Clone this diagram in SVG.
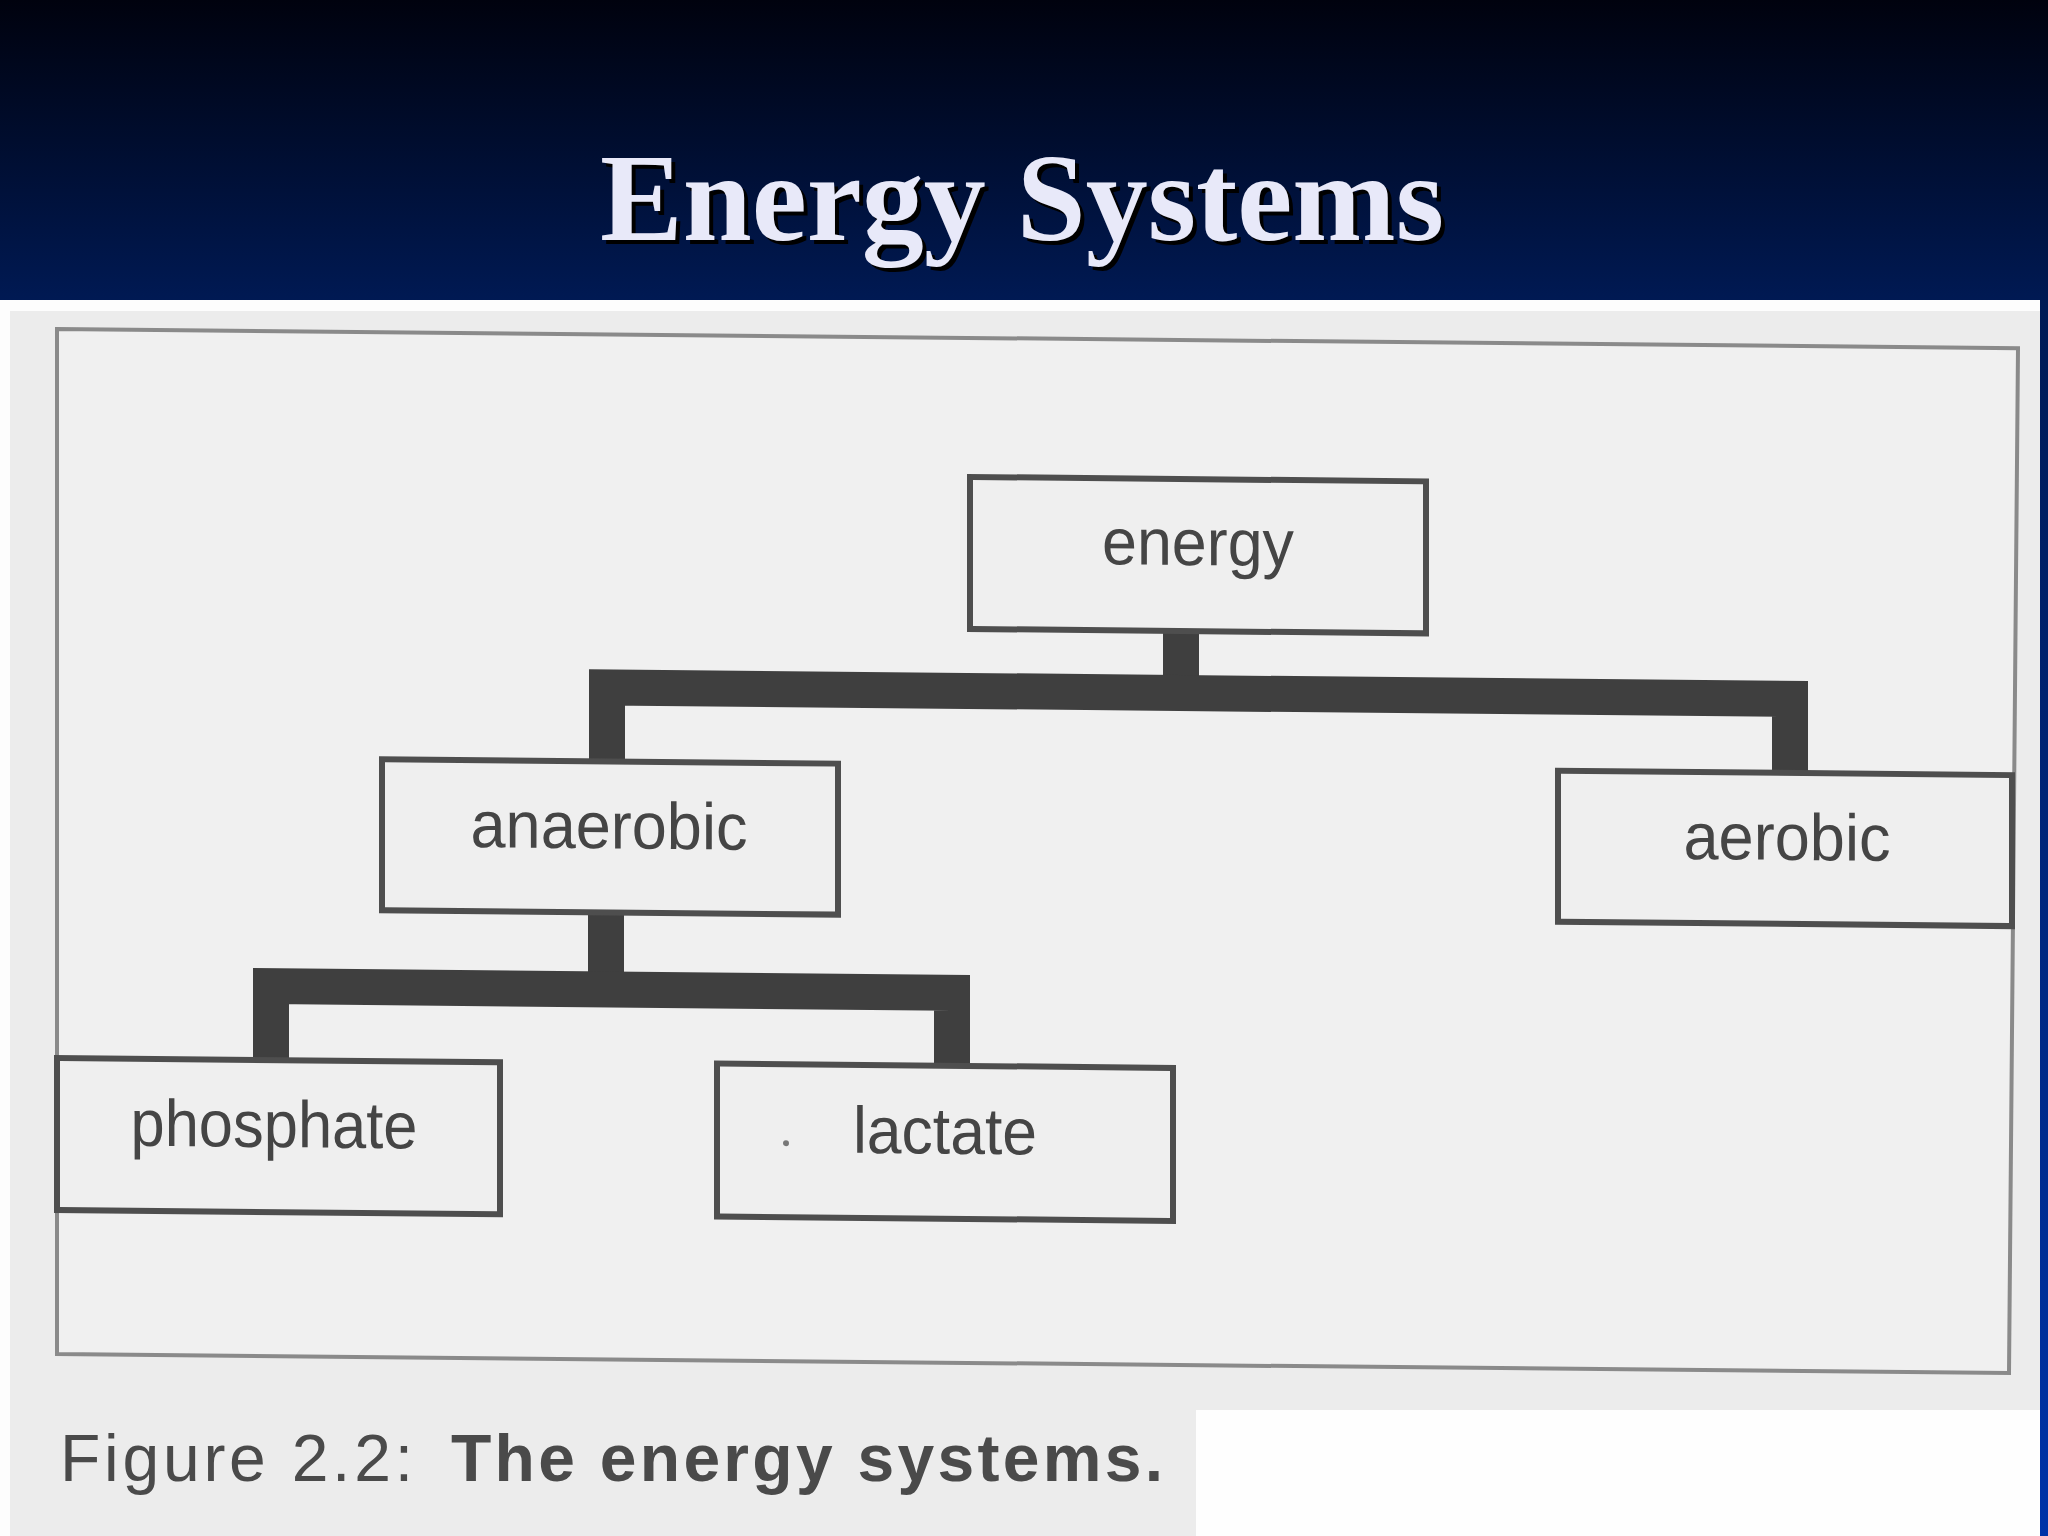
<svg xmlns="http://www.w3.org/2000/svg" width="2048" height="1536" viewBox="0 0 2048 1536">
  <defs>
    <linearGradient id="bg" x1="0" y1="0" x2="0" y2="1">
      <stop offset="0" stop-color="#00020e"/>
      <stop offset="0.2" stop-color="#001a55"/>
      <stop offset="1" stop-color="#0033a8"/>
    </linearGradient>
    <style>
      .title{font-family:"Liberation Serif","Times New Roman",serif;font-weight:bold;font-size:124px;text-anchor:middle}
      .box{fill:#efefef;stroke:#4e4e4e;stroke-width:6}
      .lbl{font-family:"Liberation Sans",Arial,sans-serif;font-size:66px;fill:#454545;text-anchor:middle}
      .conn{fill:none;stroke:#3f3f3f;stroke-width:36;stroke-linejoin:miter;stroke-linecap:butt}
      .cap{font-family:"Liberation Sans",Arial,sans-serif;font-size:66px;fill:#4a4a4a}
    </style>
  </defs>
  <rect x="0" y="0" width="2048" height="1536" fill="url(#bg)"/>
  <text class="title" x="1026" y="244" fill="#000000">Energy Systems</text>
  <text class="title" x="1022" y="240" fill="#e8e9f9">Energy Systems</text>

  <!-- picture area -->
  <rect x="0" y="300" width="2040" height="1236" fill="#fdfdfd"/>
  <rect x="10" y="311" width="2030" height="1225" fill="#ececec"/>
  <rect x="1196" y="1410" width="844" height="126" fill="#fefefe"/>

  <g transform="translate(57 0) skewY(0.56) translate(-57 0)">
    <polygon points="57,329 2018,329 2009,1354 57,1354" fill="#f0f0f0" stroke="#8a8a8a" stroke-width="4"/>

    <g id="connectors">
      <path class="conn" d="M1181,620 V682"/>
      <path class="conn" d="M607,756 V682 H1790 V756"/>
      <path class="conn" d="M606,907 V984"/>
      <path class="conn" d="M271,1058 V984 H952 V1057"/>
    </g>

    <g id="energy">
      <rect class="box" x="970" y="468" width="456" height="152"/>
      <text class="lbl" x="1198" y="554" textLength="192" lengthAdjust="spacingAndGlyphs">energy</text>
    </g>
    <g id="anaerobic">
      <rect class="box" x="382" y="756" width="456" height="151"/>
      <text class="lbl" x="609" y="843" textLength="277" lengthAdjust="spacingAndGlyphs">anaerobic</text>
    </g>
    <g id="aerobic">
      <rect class="box" x="1558" y="756" width="454" height="151"/>
      <text class="lbl" x="1787" y="843" textLength="207" lengthAdjust="spacingAndGlyphs">aerobic</text>
    </g>
    <g id="phosphate">
      <rect class="box" x="57" y="1058" width="443" height="152"/>
      <text class="lbl" x="274" y="1145" textLength="287" lengthAdjust="spacingAndGlyphs">phosphate</text>
    </g>
    <g id="lactate">
      <rect class="box" x="717" y="1057" width="456" height="153"/>
      <circle cx="786" cy="1136" r="3" fill="#777"/>
      <text class="lbl" x="945" y="1145" textLength="184" lengthAdjust="spacingAndGlyphs">lactate</text>
    </g>
  </g>

  <text class="cap" x="60" y="1481" textLength="353" lengthAdjust="spacing">Figure 2.2:</text>
  <text class="cap" x="451" y="1481" textLength="712" lengthAdjust="spacing" font-weight="bold" fill="#3c3c3c">The energy systems.</text>
</svg>
